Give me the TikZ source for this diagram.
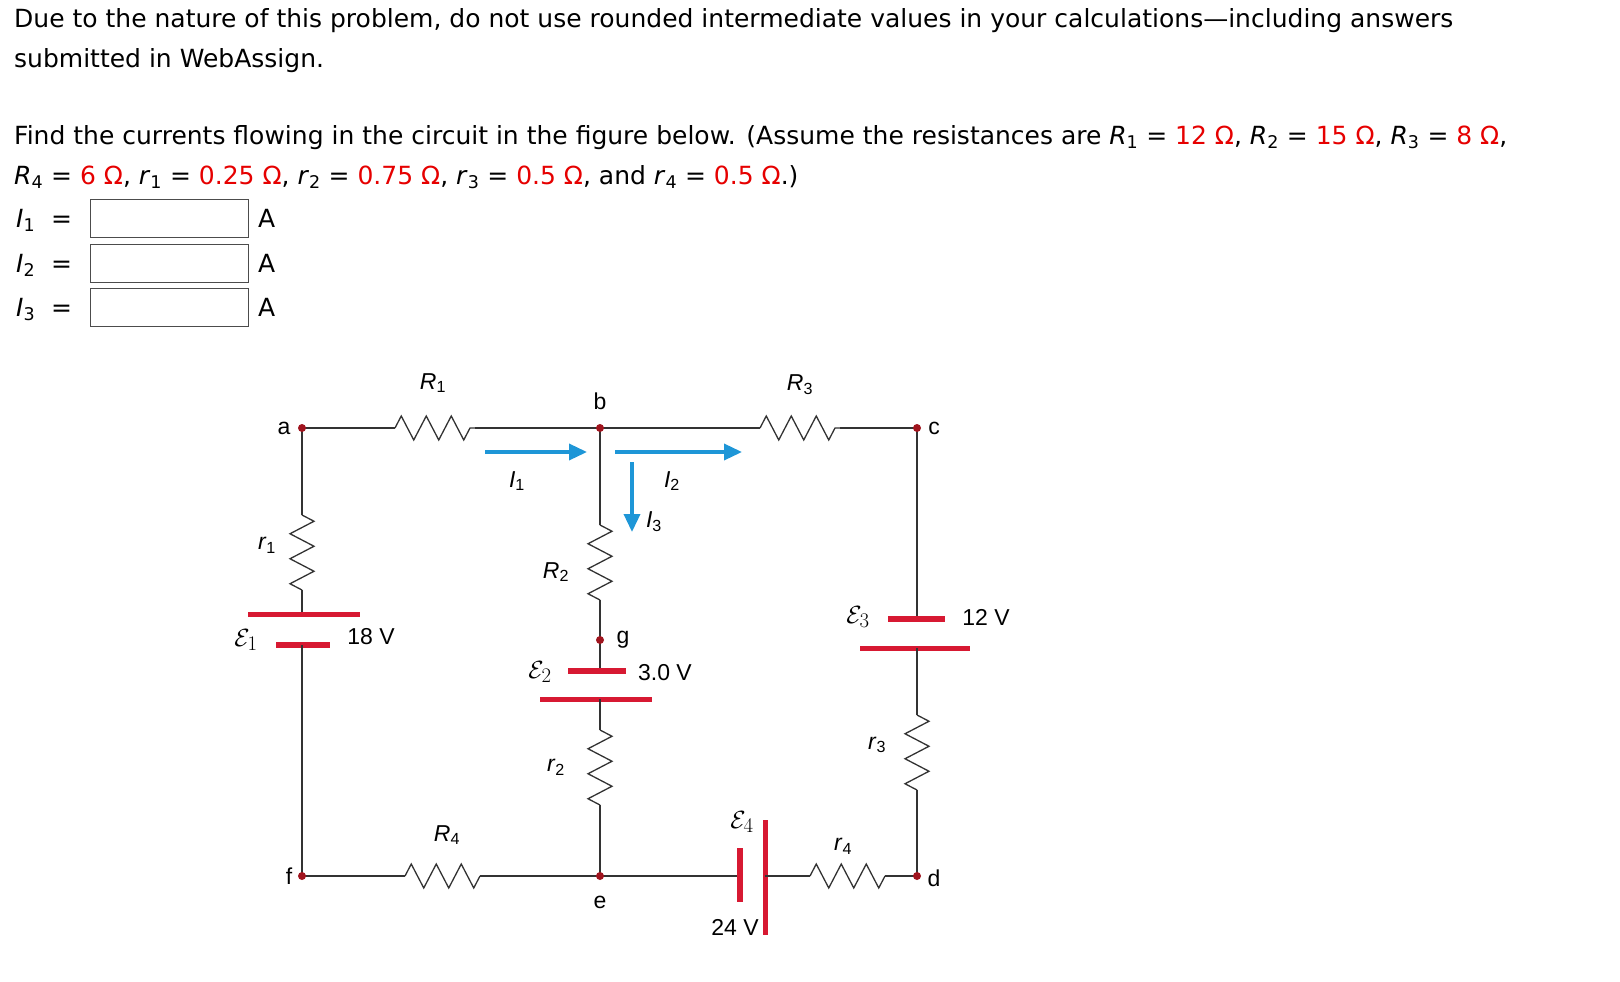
\documentclass[tikz,border=0pt]{standalone}
\usepackage{fontspec}
\setmainfont{DejaVu Sans}
\newfontfamily\circfont{Liberation Sans}
\usetikzlibrary{decorations.pathmorphing,arrows.meta}
\definecolor{qred}{RGB}{230,0,0}
\definecolor{plate}{RGB}{215,25,50}
\definecolor{iblue}{RGB}{30,150,215}
\definecolor{dotc}{RGB}{160,20,30}
\newcommand{\rv}[1]{\textcolor{qred}{#1}}
\newcommand{\vi}[2]{\textit{#1}\textsubscript{#2}}
\begin{document}
\begin{tikzpicture}[x=1pt,y=-1pt,
  txt/.style={anchor=base west,inner sep=0,font=\fontsize{25}{30}\selectfont},
  ansbox/.style={draw=black!70,line width=1pt,minimum width=158pt,minimum height=38pt,inner sep=0},
  wire/.style={line width=1.3pt,black!80},
  res/.style={wire,decorate,decoration={zigzag,segment length=25pt,amplitude=12pt}},
  lplate/.style={line width=5pt,plate},
  splate/.style={line width=6pt,plate},
  jdot/.style={circle,fill=dotc,inner sep=0,minimum size=8pt},
  lab/.style={font=\circfont\fontsize{23}{27}\selectfont,inner sep=1pt},
  emf/.style={font=\fontsize{30}{32}\selectfont,inner sep=1pt},
  cur/.style={line width=3.5pt,iblue,-{Triangle[length=18pt,width=16pt]}}]
\useasboundingbox (0,0) rectangle (1620,982);
\fill[white] (0,0) rectangle (1620,982);
% text
\node[txt] (t1) at (14,28) {Due to the nature of this problem, do not use rounded intermediate values in your calculations---including answers};
\node[txt] (t2) at (14,67) {submitted in WebAssign.};
\node[txt] (t3) at (14,144) {Find the currents flowing in the circuit in the figure below. (Assume the resistances are \vi{R}{1} = \rv{12 Ω}, \vi{R}{2} = \rv{15 Ω}, \vi{R}{3} = \rv{8 Ω},};
\node[txt] (t4) at (14,184) {\vi{R}{4} = \rv{6 Ω}, \vi{r}{1} = \rv{0.25 Ω}, \vi{r}{2} = \rv{0.75 Ω}, \vi{r}{3} = \rv{0.5 Ω}, and \vi{r}{4} = \rv{0.5 Ω}.)};
\foreach \i/\y in {1/218,2/263,3/307}{
  \node[txt] (l\i) at (16,\y+9) {\vi{I}{\i}\ \ =};
  \node[ansbox] (b\i) at (169,\y) {};
  \node[txt] (u\i) at (258,\y+9) {A};
}
% junctions
\coordinate (a) at (302,428); \coordinate (b) at (600,428); \coordinate (c) at (917,428);
\coordinate (f) at (302,876); \coordinate (e) at (600,876); \coordinate (d) at (917,876);
% top
\coordinate (R1a) at (395,428); \coordinate (R1b) at (475,428);
\coordinate (R3a) at (760,428); \coordinate (R3b) at (840,428);
\draw[wire] (a) -- (R1a); \draw[res] (R1a) -- (R1b); \draw[wire] (R1b) -- (b) -- (R3a);
\draw[res] (R3a) -- (R3b); \draw[wire] (R3b) -- (c);
% left branch
\coordinate (r1a) at (302,515); \coordinate (r1b) at (302,590);
\coordinate (E1l) at (302,614); \coordinate (E1s) at (302,645);
\draw[wire] (a) -- (r1a); \draw[res] (r1a) -- (r1b); \draw[wire] (r1b) -- (E1l);
\draw[lplate] (248,614) -- (360,614); \draw[splate] (276,645) -- (330,645);
\draw[wire] (E1s) -- (f);
% middle branch
\coordinate (R2a) at (600,525); \coordinate (R2b) at (600,600);
\coordinate (g) at (600,640); \coordinate (E2s) at (600,671); \coordinate (E2l) at (600,699);
\coordinate (r2a) at (600,730); \coordinate (r2b) at (600,805);
\draw[wire] (b) -- (R2a); \draw[res] (R2a) -- (R2b); \draw[wire] (R2b) -- (E2s);
\draw[splate] (568,671) -- (626,671); \draw[lplate] (540,699) -- (652,699);
\draw[wire] (E2l) -- (r2a); \draw[res] (r2a) -- (r2b); \draw[wire] (r2b) -- (e);
% right branch
\coordinate (E3s) at (917,619); \coordinate (E3l) at (917,648);
\coordinate (r3a) at (917,715); \coordinate (r3b) at (917,790);
\draw[wire] (c) -- (E3s); \draw[splate] (888,619) -- (945,619); \draw[lplate] (860,648) -- (970,648);
\draw[wire] (E3l) -- (r3a); \draw[res] (r3a) -- (r3b); \draw[wire] (r3b) -- (d);
% bottom
\coordinate (R4a) at (405,876); \coordinate (R4b) at (480,876);
\coordinate (E4s) at (740,876); \coordinate (E4l) at (765,876);
\coordinate (r4a) at (810,876); \coordinate (r4b) at (885,876);
\draw[wire] (f) -- (R4a); \draw[res] (R4a) -- (R4b); \draw[wire] (R4b) -- (e) -- (E4s);
\draw[splate] (740,848) -- (740,902); \draw[lplate] (765,820) -- (765,935);
\draw[wire] (E4l) -- (r4a); \draw[res] (r4a) -- (r4b); \draw[wire] (r4b) -- (d);
% dots
\foreach \p in {a,b,c,d,e,f,g} \node[jdot] (dot\p) at (\p) {};
% currents
\coordinate (i1s) at (485,452); \coordinate (i1e) at (587,452);
\coordinate (i2s) at (615,452); \coordinate (i2e) at (742,452);
\coordinate (i3s) at (632,462); \coordinate (i3e) at (632,532);
\draw[cur] (i1s) -- (i1e); \draw[cur] (i2s) -- (i2e); \draw[cur] (i3s) -- (i3e);
% labels
\node[lab] (La) at (284,428) {a};
\node[lab] (Lb) at (600,401) {b};
\node[lab] (Lc) at (934,428) {c};
\node[lab] (Ld) at (934,878) {d};
\node[lab] (Le) at (600,902) {e};
\node[lab] (Lf) at (289,876) {f};
\node[lab] (Lg) at (623,640) {g};
\node[lab] (LR1) at (433,383) {\textit{R}\textsubscript{1}};
\node[lab] (LR3) at (800,385) {\textit{R}\textsubscript{3}};
\node[lab] (LR2) at (556,572) {\textit{R}\textsubscript{2}};
\node[lab] (LR4) at (447,835) {\textit{R}\textsubscript{4}};
\node[lab] (Lr1) at (267,545) {\textit{r}\textsubscript{1}};
\node[lab] (Lr2) at (556,767) {\textit{r}\textsubscript{2}};
\node[lab] (Lr3) at (877,745) {\textit{r}\textsubscript{3}};
\node[lab] (Lr4) at (843,846) {\textit{r}\textsubscript{4}};
\node[emf] (LE1) at (246,640) {$\mathcal{E}_1$};
\node[emf] (LE2) at (540,672) {$\mathcal{E}_2$};
\node[emf] (LE3) at (858,617) {$\mathcal{E}_3$};
\node[emf] (LE4) at (742,822) {$\mathcal{E}_4$};
\node[lab] (V1) at (371,637) {18 V};
\node[lab] (V2) at (665,673) {3.0 V};
\node[lab] (V3) at (986,617) {12 V};
\node[lab] (V4) at (735,927) {24 V};
\node[lab] (LI1) at (517,481) {\textit{I}\textsubscript{1}};
\node[lab] (LI2) at (672,481) {\textit{I}\textsubscript{2}};
\node[lab] (LI3) at (654,522) {\textit{I}\textsubscript{3}};
\end{tikzpicture}
\end{document}
